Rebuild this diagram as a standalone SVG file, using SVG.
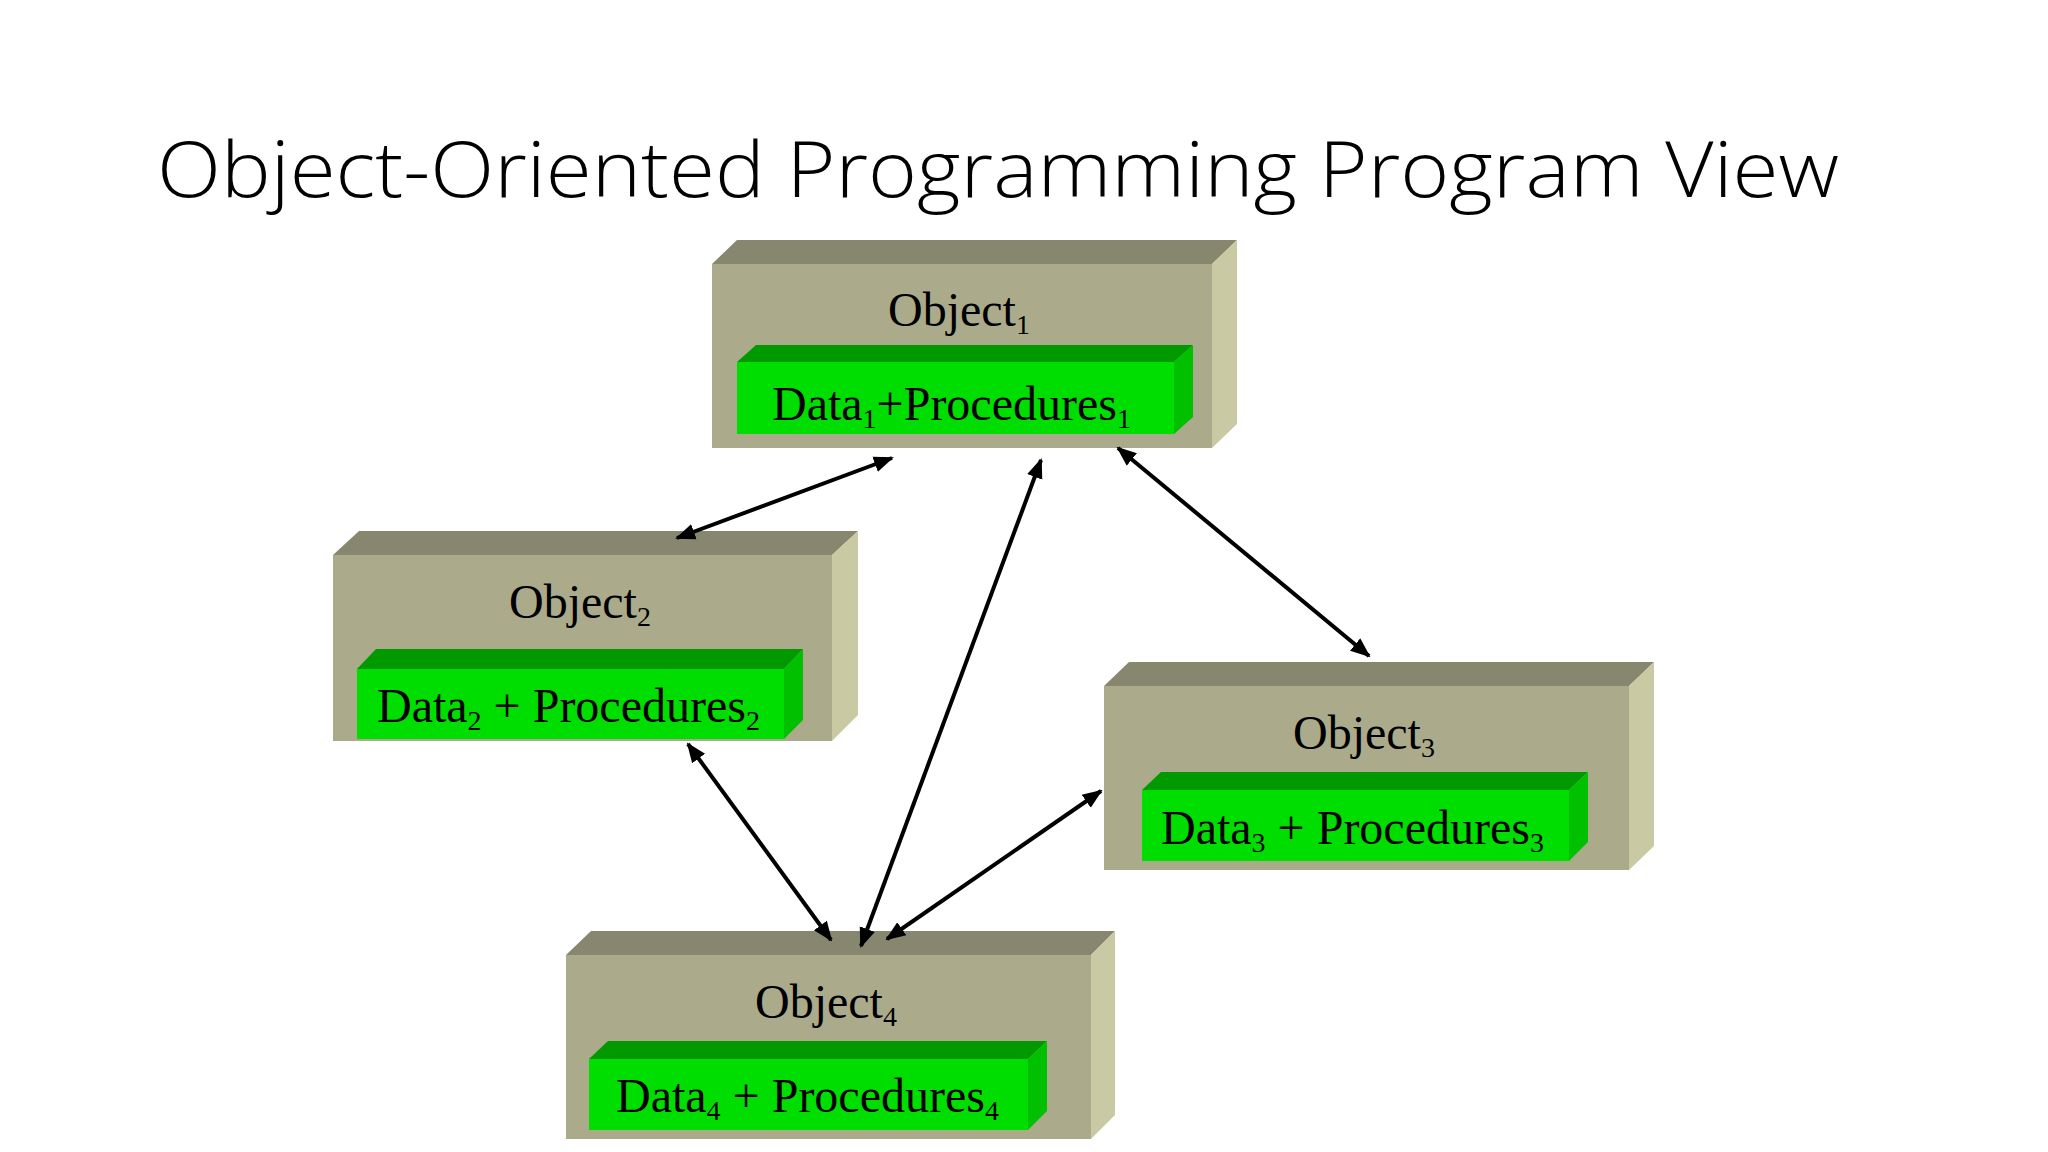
<svg xmlns="http://www.w3.org/2000/svg" width="2048" height="1152" viewBox="0 0 2048 1152">
<defs>
<style>
.front{fill:#abab8b}.top{fill:#878770}.side{fill:#c9c9a3}
.gf{fill:#00dd00}.gt{fill:#009900}.gs{fill:#00c000}
.lab{font-family:"Liberation Serif",serif;font-size:48px;fill:#000}
.sub{font-size:28px}
.con{stroke:#000;stroke-width:4;fill:none;marker-start:url(#a);marker-end:url(#a)}
</style>
<marker id="a" viewBox="0 0 10 10" refX="9" refY="5" markerWidth="5" markerHeight="5" orient="auto-start-reverse" markerUnits="strokeWidth"><path d="M0,1 L10,5 L0,9 Z" fill="#000"/></marker>
</defs>
<rect width="2048" height="1152" fill="#fff"/>
<text x="157" y="197" font-family="Open Sans,sans-serif" font-weight="300" font-size="78" textLength="1682" lengthAdjust="spacingAndGlyphs">Object-Oriented Programming Program View</text>
<g id="object1">
<polygon class="top" points="712,264 737,240 1237,240 1212,264"/>
<polygon class="side" points="1212,264 1237,240 1237,424 1212,448"/>
<rect class="front" x="712" y="264" width="500" height="184"/>
<polygon class="gt" points="737,362 756,345 1193,345 1174,362"/>
<polygon class="gs" points="1174,362 1193,345 1193,417 1174,434"/>
<rect class="gf" x="737" y="362" width="437" height="72"/>
<text class="lab" x="888" y="326">Object<tspan class="sub" dy="8">1</tspan></text>
<text class="lab" x="772" y="420">Data<tspan class="sub" dy="8">1</tspan><tspan dy="-8">+Procedures</tspan><tspan class="sub" dy="8">1</tspan></text>
</g>
<g id="object2">
<polygon class="top" points="333,555 359,531 858,531 832,555"/>
<polygon class="side" points="832,555 858,531 858,715 832,741"/>
<rect class="front" x="333" y="555" width="499" height="186"/>
<polygon class="gt" points="357,669 376,649 803,649 784,669"/>
<polygon class="gs" points="784,669 803,649 803,720 784,739"/>
<rect class="gf" x="357" y="669" width="427" height="70"/>
<text class="lab" x="509" y="618">Object<tspan class="sub" dy="8">2</tspan></text>
<text class="lab" x="377" y="722">Data<tspan class="sub" dy="8">2</tspan><tspan dy="-8"> + Procedures</tspan><tspan class="sub" dy="8">2</tspan></text>
</g>
<g id="object3">
<polygon class="top" points="1104,686 1129,662 1654,662 1629,686"/>
<polygon class="side" points="1629,686 1654,662 1654,846 1629,870"/>
<rect class="front" x="1104" y="686" width="525" height="184"/>
<polygon class="gt" points="1142,790 1161,772 1588,772 1569,790"/>
<polygon class="gs" points="1569,790 1588,772 1588,842 1569,861"/>
<rect class="gf" x="1142" y="790" width="427" height="71"/>
<text class="lab" x="1293" y="749">Object<tspan class="sub" dy="8">3</tspan></text>
<text class="lab" x="1161" y="844">Data<tspan class="sub" dy="8">3</tspan><tspan dy="-8"> + Procedures</tspan><tspan class="sub" dy="8">3</tspan></text>
</g>
<g id="object4">
<polygon class="top" points="566,955 591,931 1115,931 1091,955"/>
<polygon class="side" points="1091,955 1115,931 1115,1115 1091,1139"/>
<rect class="front" x="566" y="955" width="525" height="184"/>
<polygon class="gt" points="589,1059 608,1041 1047,1041 1028,1059"/>
<polygon class="gs" points="1028,1059 1047,1041 1047,1111 1028,1130"/>
<rect class="gf" x="589" y="1059" width="439" height="71"/>
<text class="lab" x="755" y="1018">Object<tspan class="sub" dy="8">4</tspan></text>
<text class="lab" x="616" y="1112">Data<tspan class="sub" dy="8">4</tspan><tspan dy="-8"> + Procedures</tspan><tspan class="sub" dy="8">4</tspan></text>
</g>
<g id="connectors">
<line class="con" x1="892" y1="458" x2="677" y2="538"/>
<line class="con" x1="1041" y1="460" x2="861" y2="946"/>
<line class="con" x1="1118" y1="448" x2="1369" y2="656"/>
<line class="con" x1="688" y1="744" x2="831" y2="940"/>
<line class="con" x1="1101" y1="791" x2="887" y2="939"/>
</g>
</svg>
